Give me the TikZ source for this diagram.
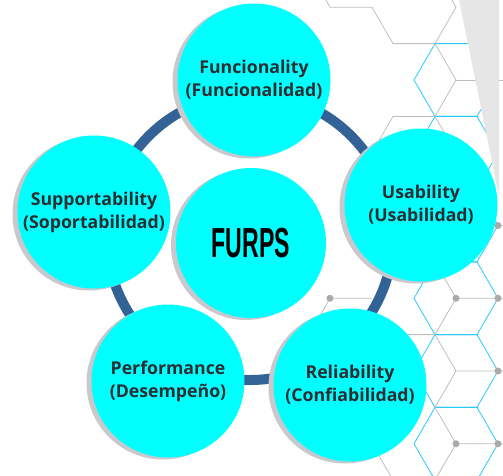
\documentclass[tikz,border=0pt]{standalone}
\usepackage{fontspec}
\setmainfont{Open Sans}
\newfontfamily\furpsfont{Liberation Sans}
\usetikzlibrary{shadows}
\definecolor{ringblue}{RGB}{50,98,150}
\definecolor{cyanfill}{RGB}{0,255,255}
\definecolor{shadowgray}{RGB}{200,200,205}
\definecolor{hexgray}{RGB}{190,190,190}
\definecolor{hexblue}{RGB}{40,200,255}
\definecolor{dotgray}{RGB}{170,170,170}
\definecolor{bandgray}{RGB}{230,230,230}
\definecolor{txt}{RGB}{45,45,50}
\begin{document}
\begin{tikzpicture}[x=1pt,y=-1pt,
  bubble/.style={circle, fill=cyanfill, minimum size=153pt, inner sep=0pt, align=center,
    font=\bfseries\fontsize{17.7}{23}\selectfont, text=txt,
    drop shadow={shadow xshift=-5pt, shadow yshift=-2pt, fill=shadowgray, opacity=1}},
  hexb/.style={draw=hexblue, line width=0.8pt},
  hexg/.style={draw=hexgray, line width=0.8pt},
  hexdot/.style={fill=dotgray}]
\useasboundingbox (0,0) rectangle (503,475);
% blue hexagons
\foreach \cy in {80,152.75,225.5,298.25,371,443.75}{
  \draw[hexb] ({456-42},\cy) -- ({456-21},{\cy-36.375}) -- ({456+21},{\cy-36.375}) -- ({456+42},\cy)
     -- ({456+21},{\cy+36.375}) -- ({456-21},{\cy+36.375}) -- cycle;
}
% gray hex lines
\draw[hexg] (326,0) -- (330,7.25) -- (372,7.25) -- (393,43.6) -- (435,43.6) -- (456,7.25) -- (452,0);
\draw[hexg] (435,43.6) -- (456,80) -- (435,116.4) -- (393,116.4) -- (372,152.75);
\draw[hexg] (456,80) -- (503,80);
\draw[hexg] (435,116.4) -- (456,152.75);
\draw[hexg] (456,225.5) -- (503,225.5);
\draw[hexg] (435,261.9) -- (456,298.25) -- (503,298.25);
\draw[hexg] (456,298.25) -- (435,334.6) -- (393,334.6);
\draw[hexg] (435,334.6) -- (456,371) -- (503,371);
\draw[hexg] (456,371) -- (435,407.4) -- (456,443.75) -- (503,443.75);
\draw[hexg] (456,443.75) -- (435,480);
\draw[hexg] (309,334.6) -- (330,298.25) -- (372,298.25);
\draw[hexg] (372,443.75) -- (393,480);
\foreach \p in {(330,298.25),(456,298.25),(498,298.25),(498,225.5),(498,371),(456,443.75),(498,443.75)}
  \fill[hexdot] \p circle[radius=3.5pt];
% gray band
\fill[bandgray] (459,0) -- (499,0) -- (499,196) -- cycle;
% ring
\coordinate (ringc) at (250,237);
\draw[ringblue, line width=10pt] (ringc) circle[radius=143pt];
% bubbles
\node[bubble] (f) at (254,80) {Funcionality\\(Funcionalidad)};
\node[bubble] (u) at (421,205) {Usability\\(Usabilidad)};
\node[bubble] (r) at (350,385) {Reliability\\(Confiabilidad)};
\node[bubble] (p) at (168,381) {Performance\\(Desempeño)};
\node[bubble] (s) at (94,212) {Supportability\\(Soportabilidad)};
\node[bubble, minimum size=150pt, text=black] (c) at (251,243)
  {\scalebox{0.55}[1]{\furpsfont\bfseries\fontsize{42}{42}\selectfont FURPS}};
\end{tikzpicture}
\end{document}
